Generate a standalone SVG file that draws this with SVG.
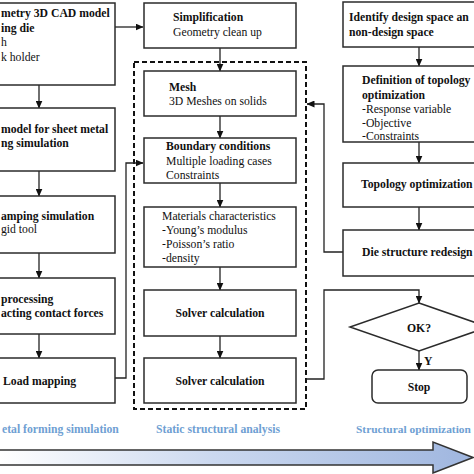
<svg xmlns="http://www.w3.org/2000/svg" width="474" height="474" viewBox="0 0 474 474">
<style>
.box{fill:#fff;stroke:#2b2b2b;stroke-width:1.5}
.t{font-family:"Liberation Serif","Times New Roman",serif;font-size:11.7px;fill:#111}
.b{font-weight:bold}
.c{text-anchor:middle}
.e{text-anchor:end}
.ph{font-family:"Liberation Serif","Times New Roman",serif;font-size:11.7px;font-weight:bold;fill:#6f9fd3}
.ln{fill:none;stroke:#222;stroke-width:1.3}
</style>
<defs>
<marker id="ah" markerUnits="userSpaceOnUse" markerWidth="8" markerHeight="7" refX="7.5" refY="3.5" orient="auto">
<path d="M0,0 L8,3.5 L0,7 Z" fill="#111"/>
</marker>
<linearGradient id="gr" x1="0" y1="0" x2="474" y2="0" gradientUnits="userSpaceOnUse">
<stop offset="0" stop-color="#ffffff"/>
<stop offset="0.45" stop-color="#cbd8ef"/>
<stop offset="1" stop-color="#9fb6df"/>
</linearGradient>
</defs>
<rect width="474" height="474" fill="#fff"/>

<g id="phase-arrow">
<path d="M-10,450 H433 V442 L473,457.5 L433,473 V465 H-10 Z" fill="url(#gr)" stroke="#333" stroke-width="1.5"/>
</g>

<g id="dashed-group">
<rect x="134" y="62" width="172" height="347" fill="none" stroke="#111" stroke-width="2" stroke-dasharray="5,3"/>
</g>

<g id="connectors">
<path class="ln" d="M115,27 H143" marker-end="url(#ah)"/>
<path class="ln" d="M39,85 V108" marker-end="url(#ah)"/>
<path class="ln" d="M39,171 V196" marker-end="url(#ah)"/>
<path class="ln" d="M39,253 V278" marker-end="url(#ah)"/>
<path class="ln" d="M39,334 V358" marker-end="url(#ah)"/>
<path class="ln" d="M115,378 H126 V163 H143" marker-end="url(#ah)"/>
<path class="ln" d="M220,48 V71" marker-end="url(#ah)"/>
<path class="ln" d="M220,116 V138" marker-end="url(#ah)"/>
<path class="ln" d="M220,183 V207" marker-end="url(#ah)"/>
<path class="ln" d="M220,267 V290" marker-end="url(#ah)"/>
<path class="ln" d="M220,336 V358" marker-end="url(#ah)"/>
<path class="ln" d="M419,47 V66" marker-end="url(#ah)"/>
<path class="ln" d="M419,142 V163" marker-end="url(#ah)"/>
<path class="ln" d="M419,207 V230" marker-end="url(#ah)"/>
<path class="ln" d="M343,252 H324 V104 H307" marker-end="url(#ah)"/>
<path class="ln" d="M306,379 H324 V290 H419 V303" marker-end="url(#ah)"/>
<path class="ln" d="M419,351 V370" marker-end="url(#ah)"/>
<text class="t b" x="424" y="365">Y</text>
</g>

<g id="n-geometry">
<rect class="box" x="-20" y="3" width="135" height="82"/>
<text class="t b" x="1" y="17">metry 3D CAD model</text>
<text class="t b" x="1" y="32">ing die</text>
<text class="t" x="1" y="46">h</text>
<text class="t" x="1" y="61">k holder</text>
</g>
<g id="n-fe-model">
<rect class="box" x="-20" y="108" width="135" height="63"/>
<text class="t b" x="1" y="133">model for sheet metal</text>
<text class="t b" x="1" y="147">ng simulation</text>
</g>
<g id="n-stamping">
<rect class="box" x="-20" y="196" width="135" height="57"/>
<text class="t b" x="1" y="220">amping simulation</text>
<text class="t" x="1" y="233">gid tool</text>
</g>
<g id="n-postprocessing">
<rect class="box" x="-20" y="278" width="135" height="56"/>
<text class="t b" x="1" y="303">processing</text>
<text class="t b" x="1" y="317">acting contact forces</text>
</g>
<g id="n-load-mapping">
<rect class="box" x="-20" y="358" width="135" height="45"/>
<text class="t b" x="3" y="385">Load mapping</text>
</g>

<g id="n-simplification">
<rect class="box" x="144" y="3" width="152" height="45"/>
<text class="t b" x="173" y="21">Simplification</text>
<text class="t" x="173" y="36">Geometry clean up</text>
</g>
<g id="n-mesh">
<rect class="box" x="144" y="71" width="152" height="45"/>
<text class="t b" x="169" y="91">Mesh</text>
<text class="t" x="169" y="105">3D Meshes on solids</text>
</g>
<g id="n-boundary">
<rect class="box" x="144" y="138" width="152" height="45"/>
<text class="t b" x="166" y="150">Boundary conditions</text>
<text class="t" x="166" y="165">Multiple loading cases</text>
<text class="t" x="166" y="179">Constraints</text>
</g>
<g id="n-materials">
<rect class="box" x="144" y="207" width="152" height="60"/>
<text class="t" x="162" y="220">Materials characteristics</text>
<text class="t" x="162" y="234">-Young’s modulus</text>
<text class="t" x="162" y="248">-Poisson’s ratio</text>
<text class="t" x="162" y="262">-density</text>
</g>
<g id="n-solver1">
<rect class="box" x="144" y="290" width="152" height="46"/>
<text class="t b c" x="220" y="317">Solver calculation</text>
</g>
<g id="n-solver2">
<rect class="box" x="144" y="358" width="152" height="45"/>
<text class="t b c" x="220" y="385">Solver calculation</text>
</g>

<g id="n-identify">
<rect class="box" x="343" y="2" width="160" height="45"/>
<text class="t b" x="349" y="21">Identify design space an</text>
<text class="t b" x="349" y="36">non-design space</text>
</g>
<g id="n-definition">
<rect class="box" x="343" y="66" width="160" height="76"/>
<text class="t b" x="362" y="84">Definition of topology</text>
<text class="t b" x="362" y="99">optimization</text>
<text class="t" x="362" y="113">-Response variable</text>
<text class="t" x="362" y="127">-Objective</text>
<text class="t" x="362" y="140">-Constraints</text>
</g>
<g id="n-topology">
<rect class="box" x="343" y="163" width="160" height="44"/>
<text class="t b" x="361" y="188">Topology optimization</text>
</g>
<g id="n-redesign">
<rect class="box" x="343" y="230" width="160" height="46"/>
<text class="t b" x="362" y="256">Die structure redesign</text>
</g>
<g id="n-ok">
<polygon class="box" points="419,303 488,327 419,351 350,327"/>
<text class="t b c" x="419" y="332">OK?</text>
</g>
<g id="n-stop">
<rect class="box" x="372" y="370" width="95" height="33" rx="6"/>
<text class="t b c" x="419" y="391">Stop</text>
</g>

<g id="phase-labels">
<text class="ph" x="2" y="433">etal forming simulation</text>
<text class="ph c" x="218" y="433">Static structural analysis</text>
<text class="ph" x="356" y="433" style="font-size:11.4px">Structural optimization</text>
</g>
</svg>
